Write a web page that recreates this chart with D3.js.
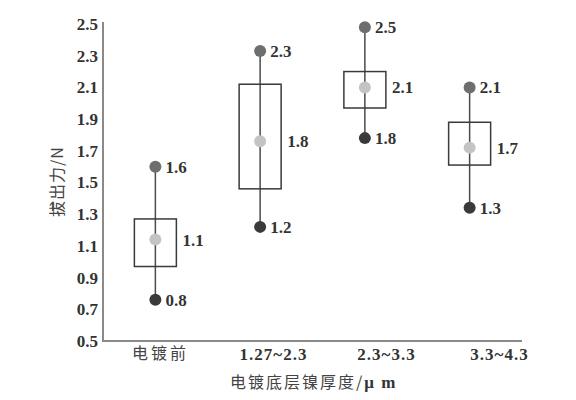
<!DOCTYPE html>
<html><head><meta charset="utf-8">
<script src="https://cdn.jsdelivr.net/npm/d3@7"></script>
<style>
html,body{margin:0;padding:0;background:#fff;}
svg{display:block;}
</style>
</head><body>
<svg id="chart" width="576" height="400"></svg>
<script>
const categories = ["电镀前", "1.27~2.3", "2.3~3.3", "3.3~4.3"];
const maxValues  = [1.60, 2.33, 2.48, 2.10];
const minValues  = [0.76, 1.22, 1.78, 1.34];
const meanValues = [1.14, 1.76, 2.10, 1.72];
const boxHigh    = [1.27, 2.12, 2.20, 1.88];
const boxLow     = [0.97, 1.46, 1.97, 1.61];
const yTicks     = [0.5, 0.7, 0.9, 1.1, 1.3, 1.5, 1.7, 1.9, 2.1, 2.3, 2.5];
const yTitle = "拔出力/N";
const xTitleCjk = "电镀底层镍厚度/";
const xTitleUnit = "μ m";

const svg = d3.select("#chart");
const m = {left: 103, right: 54, top: 22, bottom: 59};
const W = 576, H = 400;
const x = d3.scaleBand().domain(categories).range([m.left, W - m.right]);
// category labels sit slightly right of the marks in the original
const xLab = d3.scalePoint().domain(categories).range([160, 499]);
const y = d3.scaleLinear().domain([0.5, 2.5]).range([H - m.bottom, 24]);
const fmt = d3.format(".1f");
const serif = "'Liberation Serif','DejaVu Serif',serif";
const cjk = "'Noto Sans CJK SC','Noto Sans',sans-serif";
const FS = 17;

// axes
const yAxis = svg.append("g").attr("transform", `translate(${m.left},0)`)
  .call(d3.axisLeft(y).tickValues(yTicks).tickFormat(fmt).tickSize(0).tickPadding(5));
yAxis.select(".domain").remove();
yAxis.selectAll("text").attr("font-family", serif).attr("font-weight", "bold")
  .attr("font-size", FS).attr("fill", "#333");
svg.append("line").attr("x1", m.left).attr("x2", m.left).attr("y1", m.top).attr("y2", H - m.bottom)
  .attr("stroke", "#8a8a8a").attr("stroke-width", 2);

const xAxis = svg.append("g").attr("transform", `translate(0,${H - m.bottom})`)
  .call(d3.axisBottom(xLab).tickSize(0).tickPadding(7));
xAxis.select(".domain").remove();
svg.append("line").attr("x1", m.left - 1).attr("x2", W - m.right).attr("y1", H - m.bottom).attr("y2", H - m.bottom)
  .attr("stroke", "#8a8a8a").attr("stroke-width", 2);
xAxis.selectAll("text").each(function(d, i) {
  const t = d3.select(this);
  if (i === 0) {
    t.attr("font-family", cjk).attr("font-size", 16).attr("font-weight", 400)
     .attr("fill", "#444").attr("letter-spacing", 3);
  } else {
    t.attr("font-family", serif).attr("font-weight", "bold").attr("font-size", FS)
     .attr("fill", "#333").attr("letter-spacing", 1);
  }
});

// titles
const xt = svg.append("text").attr("x", (m.left + W - m.right) / 2 + 1).attr("y", 388)
  .attr("text-anchor", "middle").attr("font-family", cjk).attr("font-size", 16)
  .attr("letter-spacing", 2).attr("fill", "#444");
xt.append("tspan").text(xTitleCjk);
xt.append("tspan").attr("font-family", serif).attr("font-weight", "bold").attr("font-size", 17)
  .attr("fill", "#333").attr("letter-spacing", 1.5).text(xTitleUnit);
svg.append("text").attr("transform", `translate(63,${(m.top + H - m.bottom) / 2}) rotate(-90)`)
  .attr("text-anchor", "middle").attr("font-family", cjk).attr("font-size", 16)
  .attr("letter-spacing", 1).attr("fill", "#444").text(yTitle);

// marks
const cx = i => x(categories[i]) + x.bandwidth() / 2;
const bw = 42;
const g = svg.append("g");
categories.forEach((c, i) => {
  const X = cx(i);
  g.append("line").attr("x1", X).attr("x2", X).attr("y1", y(maxValues[i])).attr("y2", y(minValues[i]))
    .attr("stroke", "#4a4a4a").attr("stroke-width", 1.5);
  g.append("rect").attr("x", X - bw / 2).attr("y", y(boxHigh[i])).attr("width", bw)
    .attr("height", y(boxLow[i]) - y(boxHigh[i])).attr("fill", "none")
    .attr("stroke", "#3a3a3a").attr("stroke-width", 1.5);
  g.append("circle").attr("cx", X).attr("cy", y(meanValues[i])).attr("r", 6).attr("fill", "#c4c4c4");
  g.append("circle").attr("cx", X).attr("cy", y(maxValues[i])).attr("r", 6).attr("fill", "#6e6e6e");
  g.append("circle").attr("cx", X).attr("cy", y(minValues[i])).attr("r", 6).attr("fill", "#3a3a3a");
  const lab = (xx, v) => g.append("text").attr("x", xx).attr("y", y(v)).attr("dy", "0.35em")
    .attr("font-family", serif).attr("font-weight", "bold").attr("font-size", FS)
    .attr("fill", "#333").text(fmt(v));
  lab(X + 10, maxValues[i]);
  lab(X + 10, minValues[i]);
  lab(X + bw / 2 + 6, meanValues[i]);
});
</script>
</body></html>
